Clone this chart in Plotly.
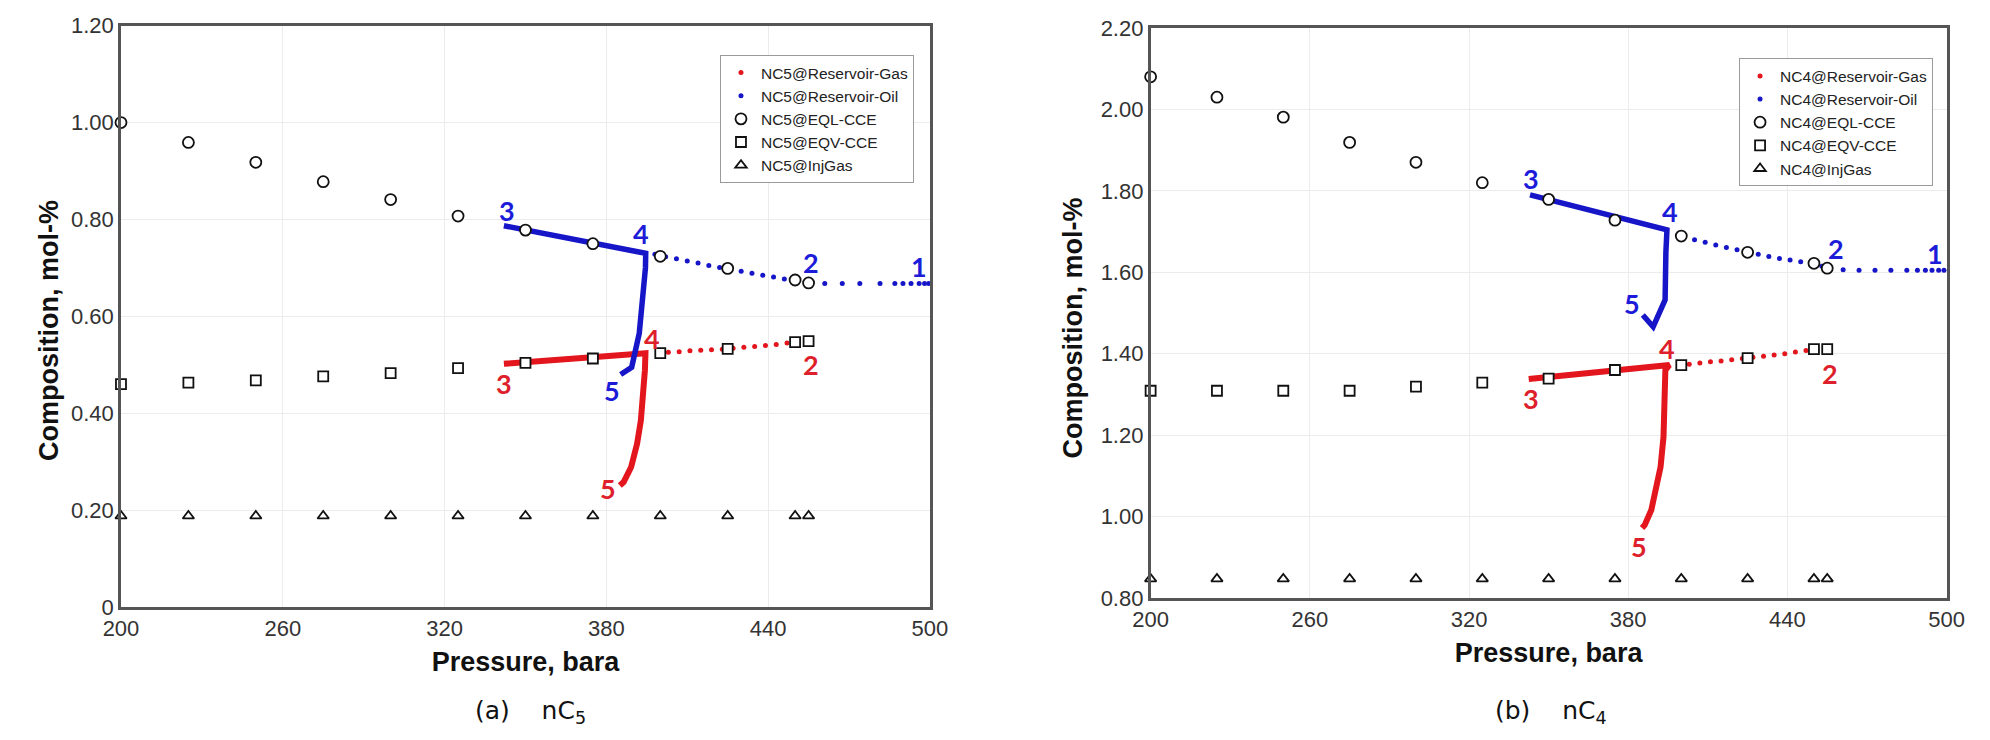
import plotly.graph_objects as go

# ---------------- data ----------------
P_CCE = [200, 225, 250, 275, 300, 325, 350, 375, 400, 425, 450, 455]

# nC5 panel (a)
nc5_eql = [1.000, 0.959, 0.918, 0.878, 0.841, 0.807, 0.778, 0.750, 0.724, 0.699, 0.675, 0.669]
nc5_eqv = [0.460, 0.463, 0.468, 0.476, 0.483, 0.493, 0.504, 0.513, 0.524, 0.533, 0.547, 0.549]
nc5_inj = [0.188, 0.188, 0.188, 0.188, 0.188, 0.188, 0.188, 0.188, 0.188, 0.188, 0.188, 0.188]

nc5_oil_dot_p = [398, 402, 406, 410, 414, 418, 422, 426, 430, 434, 438, 442, 446, 450, 454,
                 461, 467.5, 474, 481.5, 487, 490, 493, 496, 498, 499.5]
nc5_oil_dot_v = [0.728, 0.723, 0.719, 0.714, 0.710, 0.705, 0.701, 0.697, 0.693, 0.689, 0.685, 0.681, 0.677, 0.673, 0.670,
                 0.668, 0.668, 0.668, 0.668, 0.668, 0.668, 0.668, 0.668, 0.668, 0.668]
nc5_gas_dot_p = [399, 403, 407, 411, 415, 419, 423, 427, 431, 435, 439, 443, 447, 451, 455]
nc5_gas_dot_v = [0.525, 0.526, 0.527, 0.529, 0.530, 0.531, 0.532, 0.534, 0.536, 0.538, 0.540, 0.542, 0.545, 0.547, 0.549]

nc5_oil_path_p = [342, 394.6, 394.5, 393.5, 392.2, 389.4, 386.9, 385.3]
nc5_oil_path_v = [0.787, 0.730, 0.700, 0.633, 0.565, 0.495, 0.486, 0.480]
nc5_gas_path_p = [342, 394.5, 394.3, 393.5, 392.8, 391.4, 389.2, 386.4, 385.0]
nc5_gas_path_v = [0.502, 0.524, 0.489, 0.420, 0.385, 0.337, 0.289, 0.258, 0.251]

nc5_oil_lbl_text = ["1", "2", "3", "4", "5"]
nc5_oil_lbl_p = [496, 456, 343, 393, 382]
nc5_oil_lbl_v = [0.702, 0.712, 0.819, 0.771, 0.447]
nc5_gas_lbl_text = ["2", "3", "4", "5"]
nc5_gas_lbl_p = [456, 342, 397, 380.5]
nc5_gas_lbl_v = [0.500, 0.461, 0.554, 0.245]

# nC4 panel (b)
nc4_eql = [2.080, 2.030, 1.981, 1.919, 1.870, 1.820, 1.779, 1.728, 1.689, 1.649, 1.622, 1.610]
nc4_eqv = [1.309, 1.309, 1.309, 1.309, 1.319, 1.329, 1.339, 1.360, 1.372, 1.389, 1.411, 1.411]
nc4_inj = [0.847, 0.847, 0.847, 0.847, 0.847, 0.847, 0.847, 0.847, 0.847, 0.847, 0.847, 0.847]

nc4_oil_dot_p = [401, 405, 409, 413, 417, 421, 425, 429, 433, 437, 441, 445, 449, 453,
                 461, 467, 473, 479, 485, 489, 492, 494.5, 497, 499]
nc4_oil_dot_v = [1.687, 1.680, 1.674, 1.667, 1.661, 1.655, 1.649, 1.644, 1.639, 1.634, 1.630, 1.626, 1.622, 1.615,
                 1.606, 1.605, 1.605, 1.605, 1.605, 1.605, 1.605, 1.605, 1.605, 1.605]
nc4_gas_dot_p = [403, 407, 411, 415, 419, 423, 427, 431, 435, 439, 443, 447, 451, 455]
nc4_gas_dot_v = [1.374, 1.377, 1.380, 1.382, 1.385, 1.388, 1.391, 1.394, 1.397, 1.400, 1.404, 1.408, 1.411, 1.411]

nc4_oil_path_p = [343, 394.6, 394.2, 393.9, 389.4, 385.5]
nc4_oil_path_v = [1.790, 1.704, 1.650, 1.532, 1.466, 1.495]
nc4_gas_path_p = [342.5, 395.5, 394.0, 393.6, 393.3, 392.2, 390.7, 388.7, 386.2, 385.2]
nc4_gas_path_v = [1.338, 1.372, 1.360, 1.278, 1.196, 1.122, 1.073, 1.016, 0.979, 0.972]

nc4_oil_lbl_text = ["1", "2", "3", "4", "5"]
nc4_oil_lbl_p = [495.8, 458.2, 343.5, 395.9, 381.6]
nc4_oil_lbl_v = [1.647, 1.659, 1.831, 1.749, 1.523]
nc4_gas_lbl_text = ["2", "3", "4", "5"]
nc4_gas_lbl_p = [456, 343.3, 394.6, 384]
nc4_gas_lbl_v = [1.352, 1.290, 1.413, 0.926]

x_ticks = [200, 260, 320, 380, 440, 500]
y1_ticks = [0, 0.2, 0.4, 0.6, 0.8, 1.0, 1.2]
y1_ticktext = ["0", "0.20", "0.40", "0.60", "0.80", "1.00", "1.20"]
y2_ticks = [0.8, 1.0, 1.2, 1.4, 1.6, 1.8, 2.0, 2.2]
y2_ticktext = ["0.80", "1.00", "1.20", "1.40", "1.60", "1.80", "2.00", "2.20"]

# ---------------- styles ----------------
RED = "#e3151d"
BLUE = "#1616c8"
RED_LBL = "#de1f2c"
BLUE_LBL = "#1c1cd8"
AX_FONT = "Liberation Sans, Arial, sans-serif"
LBL_FONT = "Lato, Open Sans, sans-serif"

fig = go.Figure()


def add_panel(xa, ya, leg, prefix, eql, eqv, inj,
              oil_dot_p, oil_dot_v, gas_dot_p, gas_dot_v,
              oil_path_p, oil_path_v, gas_path_p, gas_path_v):
    common = dict(xaxis=xa, yaxis=ya, legend=leg, cliponaxis=False)
    fig.add_trace(go.Scatter(x=gas_path_p, y=gas_path_v, mode="lines",
                             line=dict(color=RED, width=6), showlegend=False,
                             hoverinfo="skip", **common))
    fig.add_trace(go.Scatter(x=oil_path_p, y=oil_path_v, mode="lines",
                             line=dict(color=BLUE, width=5.5), showlegend=False,
                             hoverinfo="skip", **common))
    fig.add_trace(go.Scatter(x=gas_dot_p, y=gas_dot_v, mode="markers",
                             marker=dict(color=RED, size=5),
                             name=prefix + "@Reservoir-Gas", **common))
    fig.add_trace(go.Scatter(x=oil_dot_p, y=oil_dot_v, mode="markers",
                             marker=dict(color=BLUE, size=5),
                             name=prefix + "@Reservoir-Oil", **common))
    mk_line = dict(color="#111111", width=1.8)
    fig.add_trace(go.Scatter(x=P_CCE, y=eql, mode="markers",
                             marker=dict(symbol="circle", size=11, color="white", line=mk_line),
                             name=prefix + "@EQL-CCE", **common))
    fig.add_trace(go.Scatter(x=P_CCE, y=eqv, mode="markers",
                             marker=dict(symbol="square", size=10, color="white", line=mk_line),
                             name=prefix + "@EQV-CCE", **common))
    fig.add_trace(go.Scatter(x=P_CCE, y=inj, mode="markers",
                             marker=dict(symbol="triangle-up", size=10, color="white", line=mk_line),
                             name=prefix + "@InjGas", **common))


add_panel("x", "y", "legend", "NC5", nc5_eql, nc5_eqv, nc5_inj,
          nc5_oil_dot_p, nc5_oil_dot_v, nc5_gas_dot_p, nc5_gas_dot_v,
          nc5_oil_path_p, nc5_oil_path_v, nc5_gas_path_p, nc5_gas_path_v)
add_panel("x2", "y2", "legend2", "NC4", nc4_eql, nc4_eqv, nc4_inj,
          nc4_oil_dot_p, nc4_oil_dot_v, nc4_gas_dot_p, nc4_gas_dot_v,
          nc4_oil_path_p, nc4_oil_path_v, nc4_gas_path_p, nc4_gas_path_v)

annotations = []


def add_labels(xref, yref, texts, ps, vs, color):
    for t, p, v in zip(texts, ps, vs):
        annotations.append(dict(x=p, y=v, xref=xref, yref=yref, text=t, showarrow=False,
                                xanchor="center", yanchor="middle",
                                font=dict(family=LBL_FONT, size=27, color=color, weight="bold")))


add_labels("x", "y", nc5_oil_lbl_text, nc5_oil_lbl_p, nc5_oil_lbl_v, BLUE_LBL)
add_labels("x", "y", nc5_gas_lbl_text, nc5_gas_lbl_p, nc5_gas_lbl_v, RED_LBL)
add_labels("x2", "y2", nc4_oil_lbl_text, nc4_oil_lbl_p, nc4_oil_lbl_v, BLUE_LBL)
add_labels("x2", "y2", nc4_gas_lbl_text, nc4_gas_lbl_p, nc4_gas_lbl_v, RED_LBL)

# y-axis titles and captions
for xc, yc in [(0.0246, 0.554), (0.5390, 0.557)]:
    annotations.append(dict(x=xc, y=yc, xref="paper", yref="paper", text="Composition, mol-%",
                            textangle=-90, showarrow=False, xanchor="center", yanchor="middle",
                            font=dict(family=AX_FONT, size=27, color="#111111", weight="bold")))
for xc, txt in [(0.2668, "(a)&nbsp;&nbsp;&nbsp;&nbsp;nC<sub>5</sub>"),
                (0.7794, "(b)&nbsp;&nbsp;&nbsp;&nbsp;nC<sub>4</sub>")]:
    annotations.append(dict(x=xc, y=0.038, xref="paper", yref="paper", text=txt,
                            showarrow=False, xanchor="center", yanchor="middle",
                            font=dict(family="DejaVu Sans, sans-serif", size=25, color="#111111")))

axis_common = dict(showline=True, linecolor="#555555", linewidth=2.5, mirror=True,
                   showgrid=True, gridcolor="#ececec", gridwidth=1, zeroline=False,
                   automargin=False,
                   ticks="", tickfont=dict(family=AX_FONT, size=22, color="#333333"))

legend_common = dict(xanchor="left", yanchor="top", bgcolor="white",
                     bordercolor="#9a9a9a", borderwidth=1, itemwidth=30,
                     font=dict(family=AX_FONT, size=15.5, color="#222222"))

fig.update_layout(
    width=1990, height=740,
    margin=dict(l=0, r=0, t=0, b=0, autoexpand=False),
    paper_bgcolor="white", plot_bgcolor="white",
    xaxis=dict(domain=[0.0608, 0.4673], range=[200, 500], tickvals=x_ticks, anchor="y",
               title=dict(text="Pressure, bara", standoff=12,
                          font=dict(family=AX_FONT, size=27, color="#111111", weight="bold")),
               **axis_common),
    yaxis=dict(domain=[0.1797, 0.9653], range=[0, 1.2], tickvals=y1_ticks, ticktext=y1_ticktext,
               anchor="x", **axis_common),
    xaxis2=dict(domain=[0.5782, 0.9782], range=[200, 500], tickvals=x_ticks, anchor="y2",
                title=dict(text="Pressure, bara", standoff=12,
                           font=dict(family=AX_FONT, size=27, color="#111111", weight="bold")),
                **axis_common),
    yaxis2=dict(domain=[0.1919, 0.9622], range=[0.8, 2.2], tickvals=y2_ticks, ticktext=y2_ticktext,
                anchor="x2", **axis_common),
    legend=dict(x=0.3618, y=0.9257, **legend_common),
    legend2=dict(x=0.8739, y=0.9212, **legend_common),
    annotations=annotations,
    showlegend=True,
)

fig.write_html("out.html")
